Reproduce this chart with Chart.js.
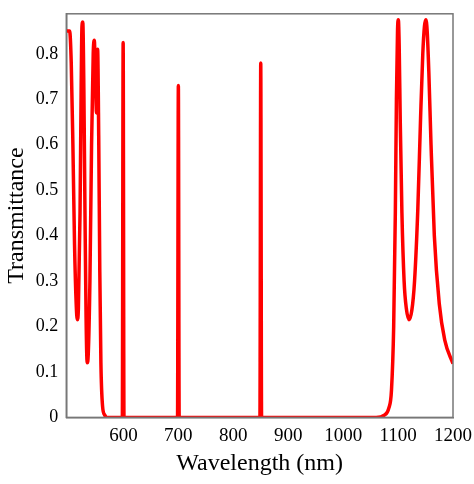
<!DOCTYPE html>
<html>
<head>
<meta charset="utf-8">
<script src="https://cdn.jsdelivr.net/npm/chart.js@4"></script>
<style>
  html, body { margin: 0; padding: 0; background: #fff; }
  #wrap { width: 474px; height: 484px; }
</style>
</head>
<body>
<div id="wrap"><canvas id="c"></canvas></div>
<script>
// ── DATA ──────────────────────────────────────────────────────
const wavelength = [496, 502, 505, 508, 511, 514, 516, 518, 521, 523, 524.5, 526, 528, 530, 532, 534, 536, 539, 542, 545, 547, 549, 551, 553, 555, 557, 559, 562, 566, 570,
  598, 599.5, 601, 698.5, 700, 701.5, 848.5, 850, 851.5,
  1060, 1075, 1083, 1088, 1092, 1095, 1097, 1099, 1100.5, 1102, 1104, 1107, 1111, 1115, 1120, 1125, 1130, 1136, 1141, 1145, 1148, 1150.5, 1153, 1156, 1160, 1166, 1175, 1185, 1200];
const transmittance = [0.85, 0.85, 0.78, 0.60, 0.38, 0.25, 0.215, 0.24, 0.45, 0.72, 0.86, 0.87, 0.72, 0.45, 0.22, 0.12, 0.14, 0.30, 0.60, 0.80, 0.83, 0.75, 0.67, 0.81, 0.62, 0.32, 0.12, 0.025, 0.005, 0,
  0, 0.825, 0, 0, 0.73, 0, 0, 0.78, 0,
  0, 0.005, 0.02, 0.06, 0.20, 0.45, 0.70, 0.85, 0.875, 0.82, 0.65, 0.45, 0.30, 0.24, 0.215, 0.235, 0.30, 0.46, 0.66, 0.80, 0.86, 0.875, 0.85, 0.76, 0.60, 0.40, 0.25, 0.17, 0.118];
const xTicks = [600, 700, 800, 900, 1000, 1100, 1200];
const yTicks = [0, 0.1, 0.2, 0.3, 0.4, 0.5, 0.6, 0.7, 0.8];

const points = wavelength.map((x, i) => ({ x, y: transmittance[i] }));
const serif = 'Liberation Serif';

// gray frame around the plot area
const frame = {
  id: 'frame',
  afterDraw(chart) {
    const { ctx, chartArea: a } = chart;
    ctx.save();
    ctx.strokeStyle = '#777';
    ctx.lineWidth = 1.5;
    ctx.strokeRect(a.left, a.top, a.right - a.left, a.bottom - a.top);
    ctx.restore();
  }
};

new Chart(document.getElementById('c'), {
  type: 'line',
  data: {
    datasets: [{
      data: points,
      borderColor: '#ff0000',
      borderWidth: 3.5,
      pointRadius: 0,
      cubicInterpolationMode: 'monotone',
      fill: false
    }]
  },
  options: {
    responsive: true,
    maintainAspectRatio: false,
    animation: false,
    layout: { padding: { top: 0, right: 20, bottom: 6, left: 0 } },
    plugins: { legend: { display: false }, tooltip: { enabled: false } },
    scales: {
      x: {
        type: 'linear', min: 496, max: 1200,
        afterBuildTicks: s => { s.ticks = xTicks.map(v => ({ value: v })); },
        ticks: { color: '#000', font: { family: serif, size: 19 }, maxRotation: 0, autoSkip: false, callback: v => String(v), padding: 2 },
        grid: { display: false, drawTicks: true, tickLength: 5 },
        border: { color: '#777', width: 1.5 },
        title: { display: true, text: 'Wavelength (nm)', color: '#000', font: { family: serif, size: 24 }, padding: 0 }
      },
      y: {
        min: 0, max: 0.888,
        afterBuildTicks: s => { s.ticks = yTicks.map(v => ({ value: v })); },
        ticks: { color: '#000', font: { family: serif, size: 18 }, callback: v => v === 0 ? '0' : v.toFixed(1) },
        grid: { display: false, drawTicks: true, tickLength: 5 },
        border: { color: '#777', width: 1.5 },
        title: { display: true, text: 'Transmittance', color: '#000', font: { family: serif, size: 24 }, padding: 2 }
      }
    }
  },
  plugins: [frame]
});
</script>
</body>
</html>
